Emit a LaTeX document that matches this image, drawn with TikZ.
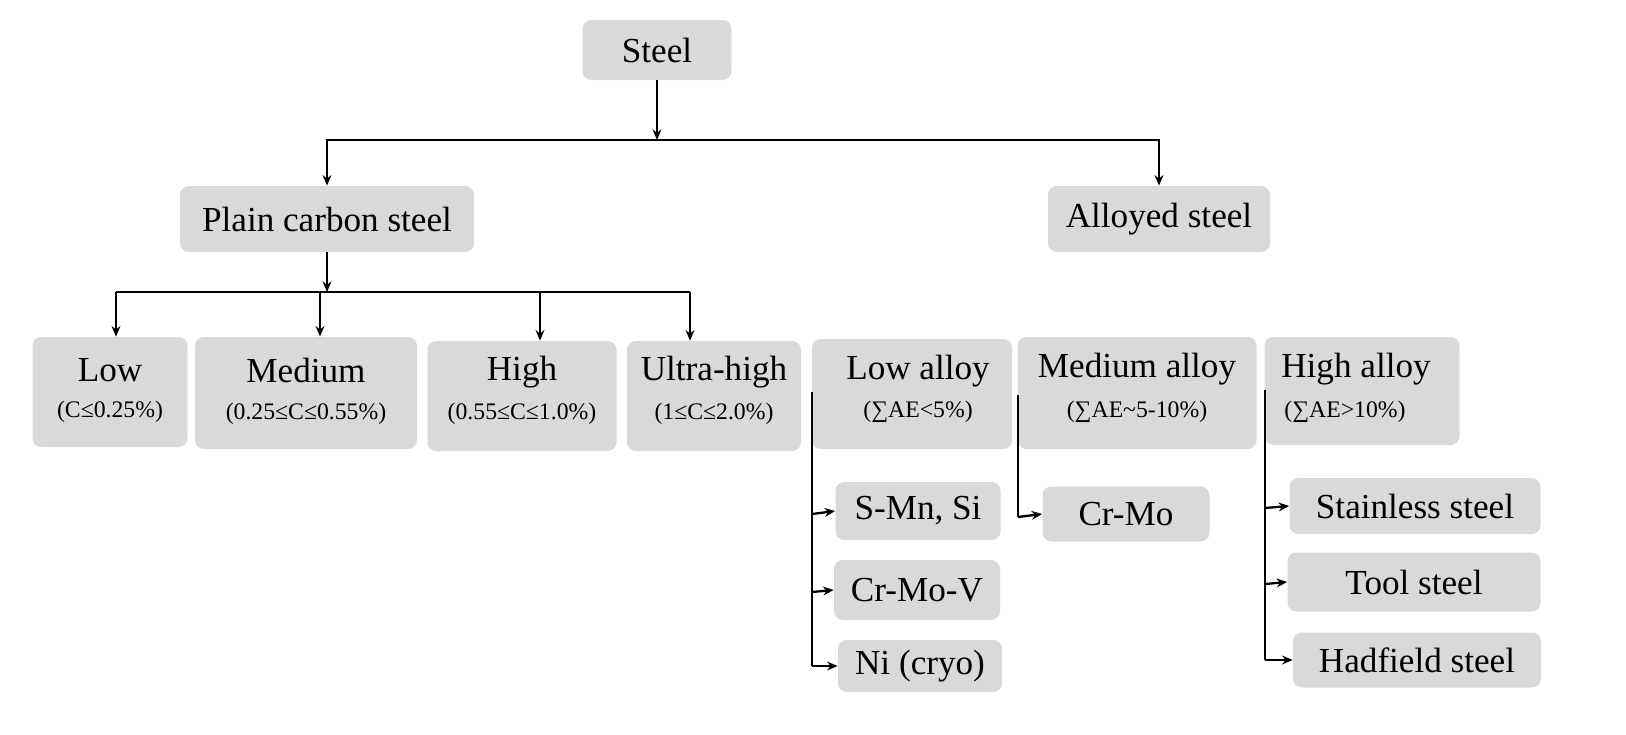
\documentclass[tikz,border=0pt]{standalone}
\usepackage{fontspec}
\setmainfont{Liberation Serif}
\usetikzlibrary{arrows.meta}
\begin{document}
\begin{tikzpicture}[x=0.02cm,y=-0.02cm,
  box/.style={fill=gray!30,rounded corners=5pt,inner sep=0pt},
  big/.style={font=\fontsize{20}{22}\selectfont,inner sep=0pt},
  small/.style={font=\fontsize{13.5}{15}\selectfont,inner sep=0pt},
  conn/.style={line width=1.3pt},
  arr/.style={conn,-{Stealth[length=6pt,width=5pt]}}]
\useasboundingbox (0,0) rectangle (1626,734);
\newcommand\bx[5]{\node[box,minimum width=#4*0.02cm,minimum height=#5*0.02cm] (#1) at (#2,#3) {};}
% single-line boxes
\bx{steel}{657}{50}{149}{60}
\node[big] at (steel) {Steel};
\bx{plain}{327}{219}{294}{66}
\node[big] at (plain) {Plain carbon steel};
\bx{alloy}{1159}{219}{222}{66}
\node[big] at (alloy) {Alloyed steel};
% two-line boxes
\bx{low}{110}{392}{155}{110}
\node[big] at (110,370) {Low}; \node[small] at (110,412) {(C≤0.25\%)};
\bx{med}{306}{393}{222}{112}
\node[big] at (306,370) {Medium}; \node[small] at (306,414) {(0.25≤C≤0.55\%)};
\bx{high}{522}{396}{189}{110}
\node[big] at (522,372) {High}; \node[small] at (522,414) {(0.55≤C≤1.0\%)};
\bx{ultra}{714}{396}{174}{110}
\node[big] at (714,372) {Ultra-high}; \node[small] at (714,414) {(1≤C≤2.0\%)};
\bx{la}{912}{394}{200}{110}
\node[big] at (918,371) {Low alloy}; \node[small] at (918,412) {(∑AE<5\%)};
\bx{ma}{1137}{393}{239}{112}
\node[big] at (1137,369) {Medium alloy}; \node[small] at (1137,412) {(∑AE\textasciitilde5-10\%)};
\bx{ha}{1362}{391}{195}{108}
\node[big] at (1356,369) {High alloy}; \node[small] at (1345,412) {(∑AE>10\%)};
% leaf boxes
\bx{smn}{918}{511}{165}{58}   \node[big] at (smn) {S-Mn, Si};
\bx{crmov}{917}{590}{166}{60} \node[big] at (crmov) {Cr-Mo-V};
\bx{ni}{920}{666}{164}{52}    \node[big] at (ni) {Ni (cryo)};
\bx{crmo}{1126}{514}{167}{55} \node[big] at (crmo) {Cr-Mo};
\bx{ss}{1415}{506}{251}{56}   \node[big] at (ss) {Stainless steel};
\bx{ts}{1414}{582}{253}{59}   \node[big] at (ts) {Tool steel};
\bx{hs}{1417}{660}{248}{55}   \node[big] at (hs) {Hadfield steel};
% connectors
\coordinate (j1) at (657,140);
\draw[arr] (steel.south) -- (j1);
\draw[arr] (j1) -| (plain.north);
\draw[arr] (j1) -| (alloy.north);
\coordinate (j2) at (327,292);
\draw[arr] (plain.south) -- (j2);
\draw[conn] (116,292) -- (690,292);
\draw[arr] (116,292) -- (116,292 |- low.north);
\draw[arr] (320,292) -- (320,292 |- med.north);
\draw[arr] (540,292) -- (540,292 |- high.north);
\draw[arr] (690,292) -- (690,292 |- ultra.north);
\draw[conn] (812,392) -- (812,666);
\draw[arr] (812,514) -- (smn.west);
\draw[arr] (812,592) -- (crmov.west);
\draw[arr] (812,666) -- (ni.west);
\draw[conn] (1018,395) -- (1018,517);
\draw[arr] (1018,517) -- (crmo.west);
\draw[conn] (1265,390) -- (1265,660);
\draw[arr] (1265,508) -- (ss.west);
\draw[arr] (1265,584) -- (ts.west);
\draw[arr] (1265,660) -- (hs.west);
\end{tikzpicture}
\end{document}
